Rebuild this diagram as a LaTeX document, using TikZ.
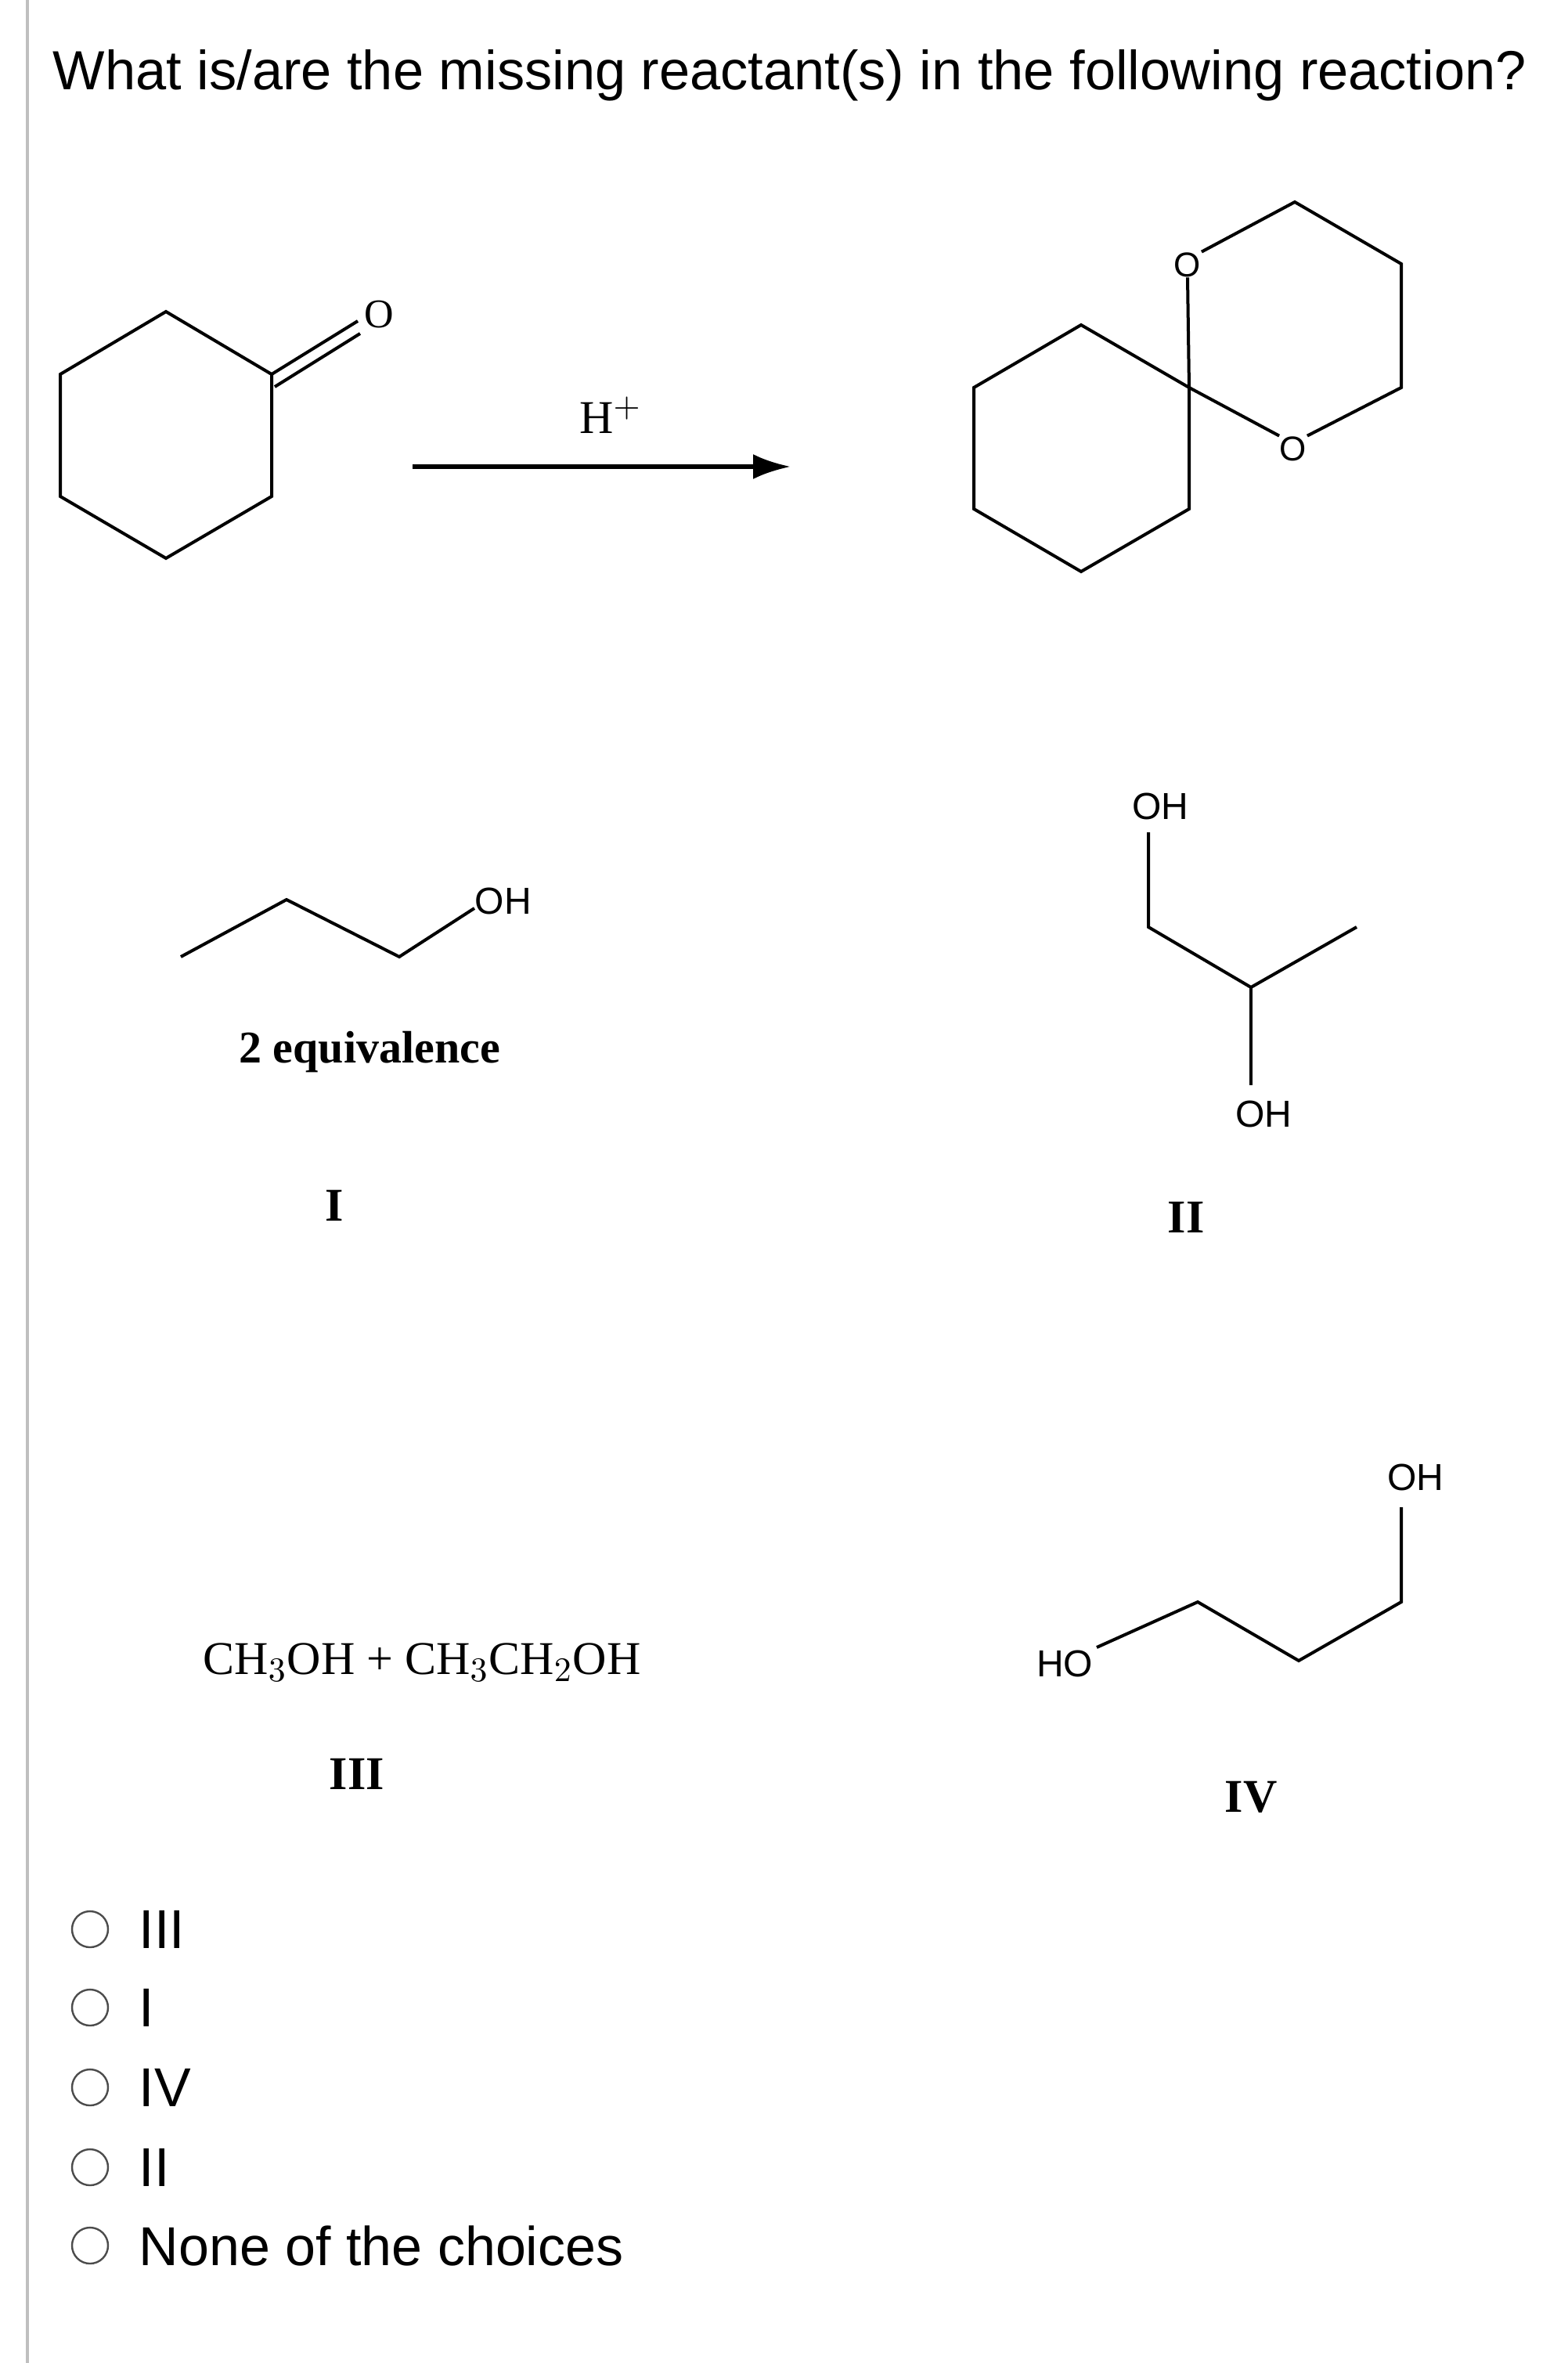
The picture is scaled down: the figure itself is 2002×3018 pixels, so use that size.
\documentclass[tikz,border=0pt]{standalone}
\usepackage{fontspec}
\setmainfont{Liberation Sans}
\newfontfamily\serif{Liberation Serif}
\usetikzlibrary{arrows.meta}
\begin{document}
\begin{tikzpicture}[x=0.25pt,y=-0.25pt,
  bond/.style={line width=1pt,line join=miter},
  atom/.style={inner sep=0pt,font=\fontsize{12}{12}\selectfont},
  sf/.style={inner sep=0pt,font=\serif\fontsize{15}{15}\selectfont},
  sfb/.style={inner sep=0pt,font=\serif\bfseries\fontsize{15}{15}\selectfont},
  opt/.style={anchor=west,inner sep=0pt,font=\fontsize{17.5}{17.5}\selectfont},
  radio/.style={circle,draw=black!70,line width=0.6pt,minimum size=11.5pt,inner sep=0pt}]
\useasboundingbox (0,0) rectangle (2002,3018);
\fill[white] (0,0) rectangle (2002,3018);
\draw[black!25,line width=0.8pt] (35,0) -- (35,3018);
\node[anchor=base west,inner sep=0pt,font=\fontsize{17.6}{18}\selectfont] (title) at (67,115) {What is/are the missing reactant(s) in the following reaction?};
% cyclohexanone
\coordinate (a1) at (212,398); \coordinate (a2) at (347,478); \coordinate (a3) at (347,634);
\coordinate (a4) at (212,713); \coordinate (a5) at (77,634); \coordinate (a6) at (77,478);
\draw[bond] (a1)--(a2)--(a3)--(a4)--(a5)--(a6)--cycle;
\node[atom,font=\serif\fontsize{13}{13}\selectfont] (o1) at (484,402) {O};
\draw[bond] (347,478) -- (457,410);
\draw[bond] (351,494) -- (460,426);
% arrow
\coordinate (ar1) at (527,596); \coordinate (ar2) at (1010,596);
\draw[line width=1.4pt,-{Latex[length=12pt,width=8pt]}] (ar1) -- (ar2);
\node[sf] (hp) at (780,530) {H$^{+}$};
% product
\coordinate (b1) at (1381,415); \coordinate (sp) at (1519,495); \coordinate (b3) at (1519,650);
\coordinate (b4) at (1381,730); \coordinate (b5) at (1244,650); \coordinate (b6) at (1244,495);
\draw[bond] (b1)--(sp)--(b3)--(b4)--(b5)--(b6)--cycle;
\node[atom,font=\fontsize{11}{11}\selectfont] (po1) at (1517,338) {O};
\node[atom,font=\fontsize{11}{11}\selectfont] (po2) at (1652,573) {O};
\coordinate (c1) at (1654,258); \coordinate (c2) at (1790,337); \coordinate (c3) at (1790,495);
\draw[bond] (sp) -- (po1.south);
\draw[bond] (po1.north east) -- (c1) -- (c2) -- (c3) -- (po2.north east);
\draw[bond] (sp) -- (po2.north west);
% I
\coordinate (i1) at (231,1222); \coordinate (i2) at (366,1149); \coordinate (i3) at (510,1222); \coordinate (i4) at (606,1160);
\draw[bond] (i1)--(i2)--(i3)--(i4);
\node[atom,anchor=west] (ioh) at (606,1151) {OH};
\node[sfb,font=\serif\bfseries\fontsize{14.5}{15}\selectfont] (ieq) at (472,1344) {2 equivalence};
\node[sfb] (lI) at (427,1540) {I};
% II
\node[atom] (iioh1) at (1482,1030) {OH};
\coordinate (d1) at (1467,1063); \coordinate (d2) at (1467,1184); \coordinate (d3) at (1598,1261); \coordinate (d4) at (1733,1184); \coordinate (d5) at (1598,1386);
\draw[bond] (d1)--(d2)--(d3)--(d4);
\draw[bond] (d3)--(d5);
\node[atom] (iioh2) at (1614,1423) {OH};
\node[sfb] (lII) at (1515,1555) {II};
% III
\node[sf] (iii) at (539,2123) {CH$_3$OH + CH$_3$CH$_2$OH};
\node[sfb] (lIII) at (456,2266) {III};
% IV
\node[atom] (ivho) at (1360,2125) {HO};
\coordinate (e1) at (1401,2104); \coordinate (e2) at (1530,2046); \coordinate (e3) at (1659,2121); \coordinate (e4) at (1790,2046); \coordinate (e5) at (1790,1925);
\draw[bond] (e1)--(e2)--(e3)--(e4)--(e5);
\node[atom] (ivoh) at (1808,1887) {OH};
\node[sfb] (lIV) at (1598,2295) {IV};
% options
\foreach \y/\t [count=\i] in {2464/III,2564/I,2666/IV,2768/II,2868/None of the choices}{
  \node[radio] (r\i) at (115,\y) {};
  \node[opt] (t\i) at (177,\y) {\t};
}
\end{tikzpicture}
\end{document}
